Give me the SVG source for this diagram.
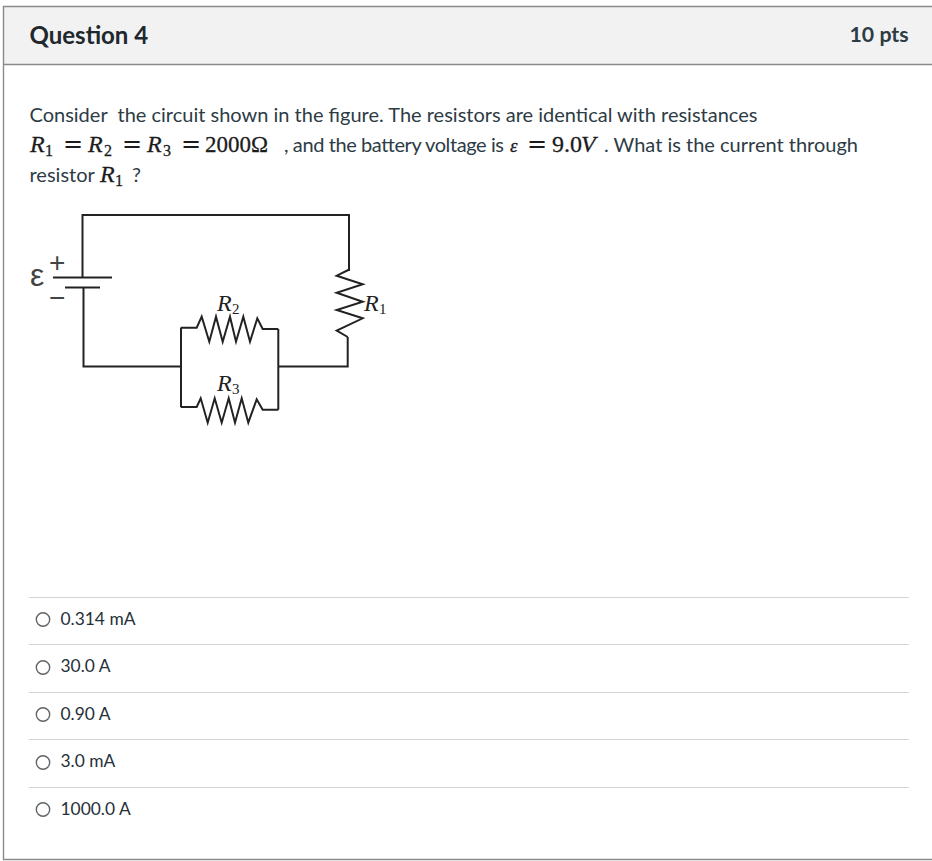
<svg xmlns="http://www.w3.org/2000/svg" width="932" height="861" viewBox="0 0 932 861">
<style>
text{font-family:"Lato","Noto Sans",sans-serif;fill:#2d3b45}
.h{font-size:24px;font-weight:700;fill:#20282e}
.pts{font-size:21.3px;font-weight:700;fill:#2d3b45}
.b{font-size:20px;white-space:pre}
.m{font-family:"Liberation Serif","DejaVu Serif",serif;font-size:24px;fill:#1c1c1c;stroke:#1c1c1c;stroke-width:.3}
.e{font-family:"DejaVu Serif",serif;font-size:24px;fill:#1c1c1c}
.i{font-style:italic}
.s{font-size:16px}
.o{font-size:17.4px;fill:#263038}
.l{font-family:"Liberation Serif","DejaVu Serif",serif;font-size:24px;font-style:italic;fill:#222}
.ls{font-family:"Liberation Serif","DejaVu Serif",serif;font-size:15px;fill:#222}
.c{font-family:"Liberation Sans",sans-serif;fill:#444}
.w{fill:none;stroke:#222;stroke-width:2;stroke-linejoin:miter}
.sep{stroke:#d4d4d4;stroke-width:1.2}
.radio{fill:#fff;stroke:#5f6468;stroke-width:1.4}
</style>
<rect width="932" height="861" fill="#fff"/>
<g id="card">
<rect x="4" y="7" width="928" height="57" fill="#f2f2f2"/>
<path d="M932 6.5H3.5V859.5H932M3.5 64.5H932" fill="none" stroke="#8a8a8a" stroke-width="1.4"/>
</g>
<g id="header">
<text class="h" x="29.5" y="44">Question 4</text>
<text class="pts" x="849.5" y="42">10 pts</text>
</g>
<g id="question">
<text class="b" x="29.5" y="122">Consider  the circuit shown in the figure. The resistors are identical with resistances</text>
<text class="m i" x="30" y="152">R</text><text class="m s" x="45" y="156">1</text>
<text class="e" x="63" y="152">=</text>
<text class="m i" x="88" y="152">R</text><text class="m s" x="104" y="156">2</text>
<text class="e" x="122" y="152">=</text>
<text class="m i" x="147" y="152">R</text><text class="m s" x="163" y="156">3</text>
<text class="e" x="181" y="152">=</text>
<text class="m" x="205" y="152" textLength="63" lengthAdjust="spacingAndGlyphs">2000Ω</text>
<text class="b" x="284" y="152" textLength="220" lengthAdjust="spacing">, and the battery voltage is</text>
<text class="m i" x="510" y="152" style="font-size:19px">ε</text>
<text class="e" x="527" y="152">=</text>
<text class="m" x="552" y="152">9.0</text>
<text class="m i" x="581" y="152">V</text>
<text class="b" x="604" y="152">. What is the current through</text>
<text class="b" x="29.5" y="182">resistor</text>
<text class="m i" x="100" y="182">R</text><text class="m s" x="115" y="186">1</text>
<text class="b" x="132" y="182">?</text>
</g>
<g id="connectors">
<path class="w" d="M82.5 277V215H349V271"/>
<path class="w" d="M83.5 288V366.5H181"/>
<path class="w" d="M279 366.5H347.7V337"/>
<path class="w" d="M181 327.7V407M278.3 329V409.7"/>
</g>
<g id="battery">
<path class="w" d="M53 277.5H112M65 287.5H100"/>
<text class="c" x="30" y="286" font-size="32">ε</text>
<text class="c" x="49" y="272" font-size="28">+</text>
<text class="c" x="49" y="307" font-size="28">−</text>
</g>
<g id="R1">
<path class="w" d="M348.3 270L336.7 275.7L362.7 284.3L336.7 292.7L362.7 301.7L336.7 310L362.7 318.3L336.7 330.7L347.7 337"/>
<text class="l" x="364" y="311">R</text><text class="ls" x="379" y="314">1</text>
</g>
<g id="R2">
<path class="w" d="M180.7 327.7H196.7L201.7 316.7L209.3 341.7L216 316.7L222.7 341.7L230 316.7L236 341.7L243.3 316.7L250 341.7L257.3 318.3L262.7 329H278.3"/>
<text class="l" x="217" y="311">R</text><text class="ls" x="232" y="314">2</text>
</g>
<g id="R3">
<path class="w" d="M180.7 407H196.7L200.7 398.3L207.7 422.7L214.7 398.3L221.7 422.7L228.7 398.3L235 422.7L241.7 398.3L248.3 422.7L256.7 399.3L262.7 409.7H278.3"/>
<text class="l" x="217" y="391">R</text><text class="ls" x="232" y="394">3</text>
</g>
<g id="options">
<path class="sep" d="M29 597.5H909M29 644.5H909M29 692.5H909M29 739.5H909M29 787.5H909"/>
<circle class="radio" cx="43" cy="619.5" r="6.7"/><text class="o" x="60.5" y="625">0.314 mA</text>
<circle class="radio" cx="43" cy="667.5" r="6.7"/><text class="o" x="60.5" y="672">30.0 A</text>
<circle class="radio" cx="43" cy="714.5" r="6.7"/><text class="o" x="60.5" y="720">0.90 A</text>
<circle class="radio" cx="43" cy="762.5" r="6.7"/><text class="o" x="60.5" y="767">3.0 mA</text>
<circle class="radio" cx="43" cy="809.5" r="6.7"/><text class="o" x="60.5" y="815">1000.0 A</text>
</g>
</svg>
